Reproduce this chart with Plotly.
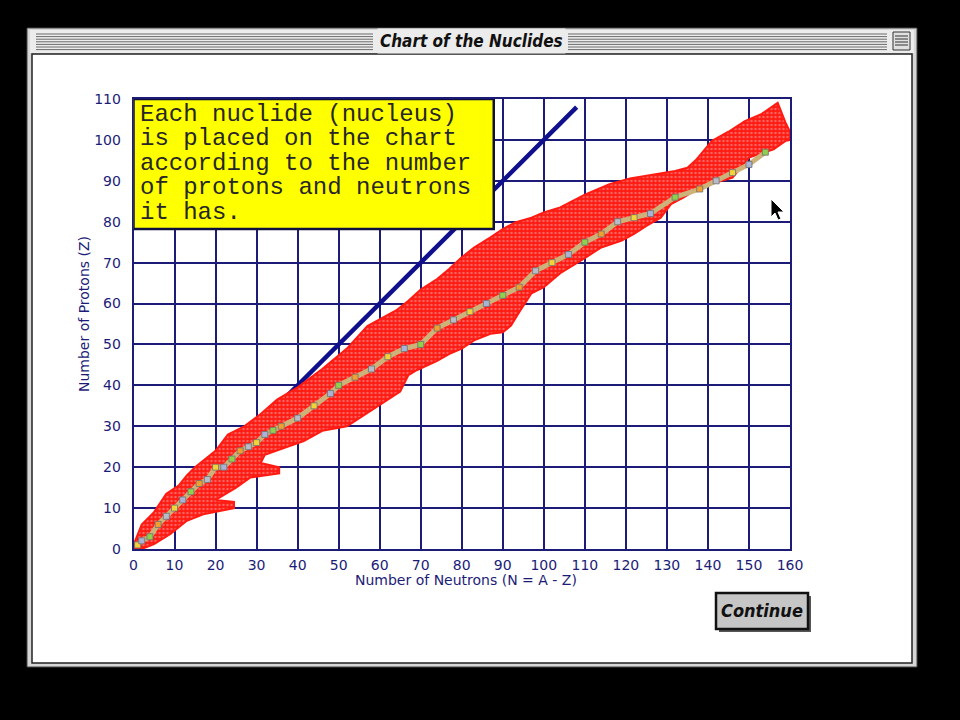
import plotly.graph_objects as go

# Nuclide band edges (N = neutrons, Z = protons)
upper_n = [0, 0, 2, 5, 8, 11, 13, 15, 20, 23, 27, 31, 35, 40, 46, 52, 57, 61, 64, 67, 70,
           74, 77, 80, 83, 87, 90, 93, 97, 100, 104, 110, 116, 121, 127, 132, 135, 137,
           141, 145, 149, 153, 157, 159, 160]
upper_z = [0, 1, 6, 9, 13.5, 15.5, 18, 20, 24, 28, 30, 33, 36.5, 39.5, 44, 49, 54.5, 56.7,
           58.3, 60.7, 63.4, 66, 68.5, 71.3, 73.7, 76.2, 78.2, 79.8, 81, 82.3, 83.5, 86.6,
           89.2, 90.6, 91.5, 92.4, 93.2, 95, 99.8, 102, 104.6, 106.3, 109.1, 104, 102]
lower_n = [160, 159, 156, 150, 146, 138, 134, 131, 128.5, 125, 122, 119, 114, 109, 104, 100,
           97, 94, 92, 90, 87, 83, 80, 77, 74, 69, 67, 65, 62, 56, 52, 46, 41.5, 37, 32, 31,
           35.5, 35.5, 28.5, 25, 20, 24.5, 24.5, 17, 13, 9, 5, 2, 0]
lower_z = [100, 99.8, 97.7, 95.7, 90.8, 88.4, 85.9, 84.3, 81, 79, 77, 75.4, 73.7, 70.5, 67.4,
           64, 62.5, 57.9, 54.6, 53, 52.6, 51, 49, 47.7, 46, 43.7, 42.5, 38.5, 36.5, 32.5, 30,
           28.9, 26.4, 24.8, 23, 21, 20, 18.5, 17.5, 15, 12, 11.5, 10, 8.5, 6.9, 3.7, 1.2, 0, 0]

# stable / long-lived nuclides along the middle of the band
stable_n = [1, 2, 4, 6, 8, 10, 12, 14, 16, 18, 20, 22, 24, 26, 28, 30, 32, 34, 36, 40, 44, 48,
            50, 54, 58, 62, 66, 70, 74, 78, 82, 86, 90, 94, 98, 102, 106, 110, 114, 118, 122,
            126, 132, 138, 142, 146, 150, 154]
stable_z = [1, 2, 3, 6, 8, 10, 12, 14, 16, 17, 20, 20, 22, 24, 25, 26, 28, 29, 30, 32, 35, 38,
            40, 42, 44, 47, 49, 50, 54, 56, 58, 60, 62, 64, 68, 70, 72, 75, 77, 80, 81,
            82, 86, 88, 90, 92, 94, 97]

# Z = N reference line
diag_n = [0, 108]
diag_z = [0, 108]

x_ticks = list(range(0, 161, 10))
y_ticks = list(range(0, 111, 10))

box_lines = ["Each nuclide (nucleus)",
             "is placed on the chart",
             "according to the number",
             "of protons and neutrons",
             "it has."]

NAVY = "#1c1c78"
W, H = 960, 720


def px(x):
    return x / W


def py(y):
    return 1 - y / H


def rect(x0, y0, x1, y1, fill, line="rgba(0,0,0,0)", width=0, layer="below"):
    return dict(type="rect", xref="paper", yref="paper", x0=px(x0), x1=px(x1),
                y0=py(y1), y1=py(y0), fillcolor=fill,
                line=dict(color=line, width=width), layer=layer)


def hline(x0, x1, y, color, width=1, layer="below"):
    return dict(type="line", xref="paper", yref="paper", x0=px(x0), x1=px(x1),
                y0=py(y), y1=py(y), line=dict(color=color, width=width), layer=layer)


fig = go.Figure()

fig.add_trace(go.Scatter(x=diag_n, y=diag_z, mode="lines",
                         line=dict(color="#10108c", width=4.5),
                         hoverinfo="skip", showlegend=False))

fig.add_trace(go.Scatter(x=upper_n + lower_n, y=upper_z + lower_z, mode="lines",
                         fill="toself", fillcolor="#ff1a12",
                         fillpattern=dict(shape=".", bgcolor="#ff1a12", fgcolor="#ffb0b0",
                                          size=4, solidity=0.3),
                         line=dict(color="#ff1a12", width=2),
                         hoverinfo="skip", showlegend=False))

valley_colors = ["#f2d43a", "#a9b3d6", "#8fd04c", "#f0a030", "#b8bcc8"]
fig.add_trace(go.Scatter(x=stable_n, y=stable_z, mode="lines+markers",
                         line=dict(color="#cdb27a", width=5),
                         marker=dict(symbol="square", size=6,
                                     color=[valley_colors[i % 5] for i in range(len(stable_n))],
                                     line=dict(color="#707070", width=0.8)),
                         hoverinfo="skip", showlegend=False))

axis_font = dict(family="DejaVu Sans, Verdana, sans-serif", size=14, color=NAVY)

fig.update_xaxes(range=[0, 160], tickvals=x_ticks, showgrid=True, gridcolor=NAVY,
                 gridwidth=1.5, showline=True, mirror=True, linecolor=NAVY, linewidth=1.5,
                 zeroline=False, tickfont=axis_font, ticks="", ticklabelstandoff=2,
                 automargin=False, domain=[px(133.5), px(790)], fixedrange=True)
fig.update_yaxes(range=[0, 110], tickvals=y_ticks, showgrid=True, gridcolor=NAVY,
                 gridwidth=1.5, showline=True, mirror=True, linecolor=NAVY, linewidth=1.5,
                 zeroline=False, tickfont=axis_font, ticks="", ticklabelstandoff=8,
                 automargin=False, domain=[py(549), py(99)], fixedrange=True)

# window chrome
shapes = [
    rect(27, 28, 917, 667, "#d6d6d6", "#444444", 1),
    rect(30, 30, 914, 53, "#ececec"),
    rect(32, 54, 912, 663, "#ffffff", "#222222", 1.5),
]
for k in range(7):
    yy = 34 + 2.6 * k
    shapes.append(hline(36, 373, yy, "#6a6a6a", 1))
    shapes.append(hline(568, 887, yy, "#6a6a6a", 1))
shapes.append(rect(893, 32, 910, 50, "#e0e0e0", "#333333", 1))
for k in range(4):
    shapes.append(hline(895, 908, 36 + 3 * k, "#333333", 1))

# yellow caption box (covers the grid)
shapes.append(dict(type="rect", xref="x", yref="y", x0=0, x1=87.8, y0=78.2, y1=110,
                   fillcolor="#ffff00", line=dict(color="#101040", width=2.5), layer="above"))

# Continue button
shapes.append(rect(719, 596, 811, 632, "#555555", layer="above"))
shapes.append(dict(type="path", xref="paper", yref="paper", layer="above",
                   path="M {},{} L {},{} L {},{} L {},{} Z".format(
                       px(716), py(593), px(808), py(593), px(808), py(629), px(716), py(629)),
                   fillcolor="#c6c6c6", line=dict(color="#111111", width=2.5)))

# mouse pointer
pts = [(771, 199), (771, 217), (775, 213), (778, 220), (781, 219), (778, 212), (784, 212)]
cursor = "M " + " L ".join("{},{}".format(px(a), py(b)) for a, b in pts) + " Z"
shapes.append(dict(type="path", xref="paper", yref="paper", layer="above", path=cursor,
                   fillcolor="#000000", line=dict(color="#ffffff", width=1)))

annotations = [
    dict(text="<b><i>Chart of the Nuclides</i></b>", xref="paper", yref="paper",
         x=px(471), y=py(41), xanchor="center", yanchor="middle", showarrow=False,
         bgcolor="#ececec",
         font=dict(family="DejaVu Sans Condensed, Liberation Sans Narrow, sans-serif",
                   size=17, color="#111111"), borderpad=2),
    dict(text="Number of Protons (Z)", xref="paper", yref="paper", x=px(84), y=py(314),
         xanchor="center", yanchor="middle", textangle=-90, showarrow=False, font=axis_font),
    dict(text="Number of Neutrons (N = A - Z)", xref="paper", yref="paper", x=px(466),
         y=py(580), xanchor="center", yanchor="middle", showarrow=False, font=axis_font),
    dict(text="<b><i>Continue</i></b>", xref="paper", yref="paper", x=px(762), y=py(610),
         xanchor="center", yanchor="middle", showarrow=False,
         font=dict(family="DejaVu Sans Condensed, Liberation Sans Narrow, sans-serif",
                   size=18, color="#111111")),
]
for i, line in enumerate(box_lines):
    annotations.append(dict(text=line, xref="paper", yref="paper", x=px(139),
                            y=py(114 + 24.6 * i), xanchor="left", yanchor="middle",
                            showarrow=False, borderpad=0,
                            font=dict(family="Courier New, Liberation Mono, monospace",
                                      size=24, color="#262626")))

fig.update_layout(width=W, height=H, margin=dict(l=0, r=0, t=0, b=0, pad=0),
                  paper_bgcolor="#000000", plot_bgcolor="#ffffff",
                  shapes=shapes, annotations=annotations, showlegend=False)

fig.write_html("out.html", config={"displayModeBar": False},
               post_script="document.body.style.margin='0';")
